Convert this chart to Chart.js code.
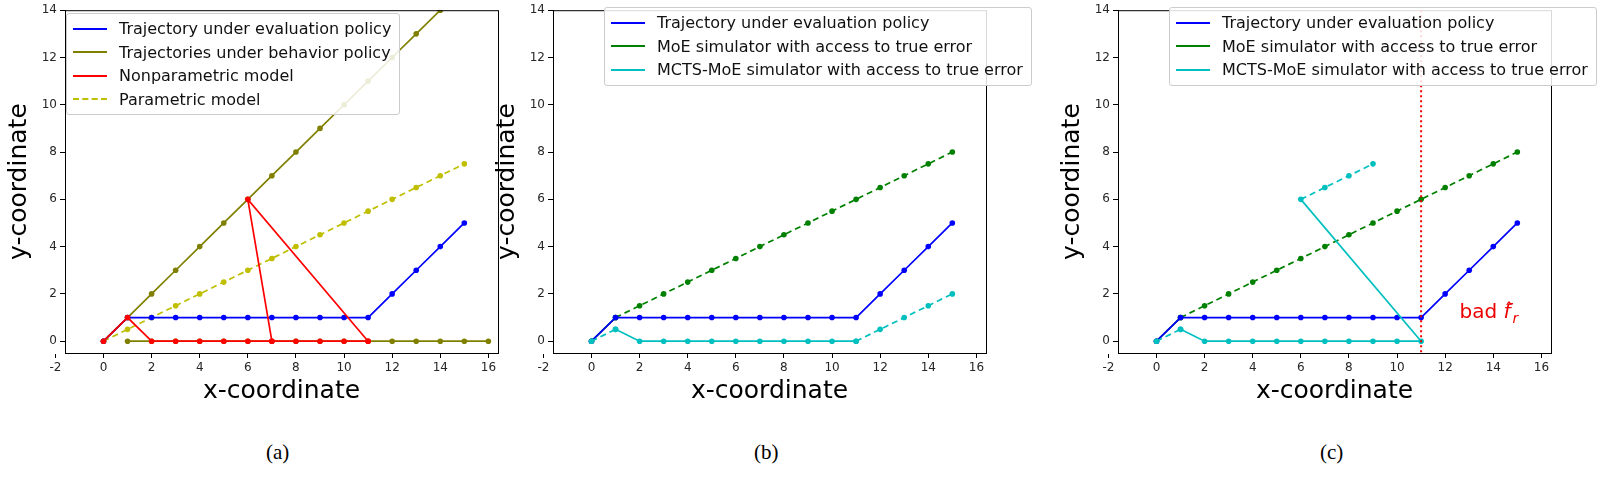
<!DOCTYPE html>
<html><head><meta charset="utf-8">
<script src="https://cdn.jsdelivr.net/npm/chart.js@4/dist/chart.umd.min.js"></script>
<style>
body{margin:0;background:#fff;width:1617px;height:480px;position:relative;overflow:hidden;font-family:"DejaVu Sans",sans-serif}
.c{position:absolute;top:0;width:510px;height:410px}
.cap{position:absolute;top:440px;font-family:"Liberation Serif",serif;font-size:21px}
.leg{position:absolute;background:rgba(255,255,255,0.85);border:1px solid #ccc;border-radius:3px;padding:3px 8px 3px 6px;font-size:16px;color:#111;line-height:23.5px;white-space:nowrap}
.leg div{display:flex;align-items:center}
.leg span.s{display:inline-block;width:34px;margin-right:12px;border-top-width:2px;border-top-style:solid}
</style></head><body>
<div class="c" style="left:0"><canvas id="a"></canvas></div>
<div class="c" style="left:488px"><canvas id="b"></canvas></div>
<div class="c" style="left:1053px"><canvas id="cc"></canvas></div>
<div class="cap" style="left:266px">(a)</div>
<div class="cap" style="left:754px">(b)</div>
<div class="cap" style="left:1320px">(c)</div>
<div class="leg" style="left:66px;top:13px">
<div><span class="s" style="border-color:#0000ff"></span>Trajectory under evaluation policy</div>
<div><span class="s" style="border-color:#808000"></span>Trajectories under behavior policy</div>
<div><span class="s" style="border-color:#ff0000"></span>Nonparametric model</div>
<div><span class="s" style="border-color:#bfbf00;border-top-style:dashed"></span>Parametric model</div>
</div>
<div class="leg" style="left:604px;top:7px">
<div><span class="s" style="border-color:#0000ff"></span>Trajectory under evaluation policy</div>
<div><span class="s" style="border-color:#008000"></span>MoE simulator with access to true error</div>
<div><span class="s" style="border-color:#00bfbf"></span>MCTS-MoE simulator with access to true error</div>
</div>
<div class="leg" style="left:1169px;top:7px">
<div><span class="s" style="border-color:#0000ff"></span>Trajectory under evaluation policy</div>
<div><span class="s" style="border-color:#008000"></span>MoE simulator with access to true error</div>
<div><span class="s" style="border-color:#00bfbf"></span>MCTS-MoE simulator with access to true error</div>
</div>
<script>
const xTicks=[-2,0,2,4,6,8,10,12,14,16];
const yTicks=[0,2,4,6,8,10,12,14];
// evaluation trajectory
const evalX=[0,1,2,3,4,5,6,7,8,9,10,11,12,13,14,15];
const evalY=[0,1,1,1,1,1,1,1,1,1,1,1,2,3,4,5];
// behavior policy
const behDiagX=[0,1,2,3,4,5,6,7,8,9,10,11,12,13,14,15];
const behDiagY=[0,1,2,3,4,5,6,7,8,9,10,11,12,13,14,15];
const behFlatX=[1,2,3,4,5,6,7,8,9,10,11,12,13,14,15,16];
const behFlatY=[0,0,0,0,0,0,0,0,0,0,0,0,0,0,0,0];
// nonparametric model
const npX=[0,1,2,3,4,5,6,7,8,9,10,11];
const npY=[0,1,0,0,0,0,0,0,0,0,0,0];
const npJumpX=[7,6,11];
const npJumpY=[0,6,0];
// parametric model
const parX=[0,1,2,3,4,5,6,7,8,9,10,11,12,13,14,15];
const parY=[0,0.5,1,1.5,2,2.5,3,3.5,4,4.5,5,5.5,6,6.5,7,7.5];
// MoE
const moeStartX=[0,1], moeStartY=[0,1];
const moeX=[1,2,3,4,5,6,7,8,9,10,11,12,13,14,15];
const moeY=[1,1.5,2,2.5,3,3.5,4,4.5,5,5.5,6,6.5,7,7.5,8];
// MCTS-MoE
const mcStartX=[0,1], mcStartY=[0,0.5];
const mcMidX=[1,2,3,4,5,6,7,8,9,10,11], mcMidY=[0.5,0,0,0,0,0,0,0,0,0,0];
const mcEndBX=[11,12,13,14,15], mcEndBY=[0,0.5,1,1.5,2];
const mcJumpCX=[11,6], mcJumpCY=[0,6];
const mcEndCX=[6,7,8,9], mcEndCY=[6,6.5,7,7.5];
const badX=11;

const z=(xs,ys)=>xs.map((x,i)=>({x,y:ys[i]}));
function ds(xs,ys,col,dash,pts=true){return{data:z(xs,ys),borderColor:col,backgroundColor:col,showLine:true,borderWidth:1.7,borderDash:dash?[6,4]:[],pointRadius:pts?2.8:0,pointHoverRadius:0,pointBorderWidth:0};}
const frame={id:'frame',afterDraw(c){const a=c.chartArea,x=c.ctx;x.save();x.strokeStyle='#000';x.lineWidth=1;x.strokeRect(a.left+0.5,a.top+0.5,a.width,a.height);
 if(c.canvas.id==='cc'){const px=c.scales.x.getPixelForValue(badX);x.strokeStyle='#e00';x.lineWidth=2;x.setLineDash([2,3]);x.beginPath();x.moveTo(px,a.top);x.lineTo(px,a.bottom);x.stroke();x.setLineDash([]);
  const tx=c.scales.x.getPixelForValue(12.6),ty=c.scales.y.getPixelForValue(1.0);x.fillStyle='#e00';x.font='20px "DejaVu Sans"';x.textBaseline='alphabetic';x.fillText('bad ',tx,ty);const w=x.measureText('bad ').width;x.font='italic 20px "DejaVu Sans"';x.fillText('f',tx+w,ty);x.font='18px "DejaVu Sans"';x.fillText('\u02C6',tx+w+1,ty-2);x.font='italic 14px "DejaVu Sans"';x.fillText('r',tx+w+9,ty+5);}
 x.restore();}};
function mk(id,datasets){
 datasets=datasets.slice().reverse(); // later-listed series drawn on top
 new Chart(document.getElementById(id),{type:'scatter',data:{datasets},plugins:[frame],options:{animation:false,responsive:true,maintainAspectRatio:false,
 layout:{padding:{top:5,right:12,left:0,bottom:0}},
 plugins:{legend:{display:false},tooltip:{enabled:false}},
 scales:{x:{type:'linear',min:-1.6,max:16.4,afterBuildTicks:s=>{s.ticks=xTicks.map(v=>({value:v}))},afterFit:s=>{s.height=57},
  grid:{drawOnChartArea:false,tickLength:5,color:'#000'},border:{color:'#000'},ticks:{color:'#262626',font:{size:12,family:'DejaVu Sans'},padding:3},
  title:{display:true,text:'x-coordinate',color:'#000',font:{size:25,family:'DejaVu Sans'},padding:{top:0}}},
 y:{type:'linear',min:-0.5,max:14,afterBuildTicks:s=>{s.ticks=yTicks.map(v=>({value:v}))},afterFit:s=>{s.width=65},
  grid:{drawOnChartArea:false,tickLength:5,color:'#000'},border:{color:'#000'},ticks:{color:'#262626',font:{size:12,family:'DejaVu Sans'},padding:3},
  title:{display:true,text:'y-coordinate',color:'#000',font:{size:25,family:'DejaVu Sans'},padding:{bottom:2}}}}}});
}
mk('a',[ds(behDiagX,behDiagY,'#808000',false),ds(behFlatX,behFlatY,'#808000',false),ds(parX,parY,'#bfbf00',true),ds(evalX,evalY,'#0000ff',false),ds(npX,npY,'#ff0000',false),ds(npJumpX,npJumpY,'#ff0000',false)]);
const common=()=>[ds(moeStartX,moeStartY,'#006400',false),ds(moeX,moeY,'#008000',true),ds(evalX,evalY,'#0000ff',false),ds(mcStartX,mcStartY,'#00bfbf',true),ds(mcMidX,mcMidY,'#00bfbf',false)];
mk('b',[...common(),ds(mcEndBX,mcEndBY,'#00bfbf',true)]);
mk('cc',[...common(),ds(mcJumpCX,mcJumpCY,'#00bfbf',false,false),ds(mcEndCX,mcEndCY,'#00bfbf',true)]);
</script></body></html>
